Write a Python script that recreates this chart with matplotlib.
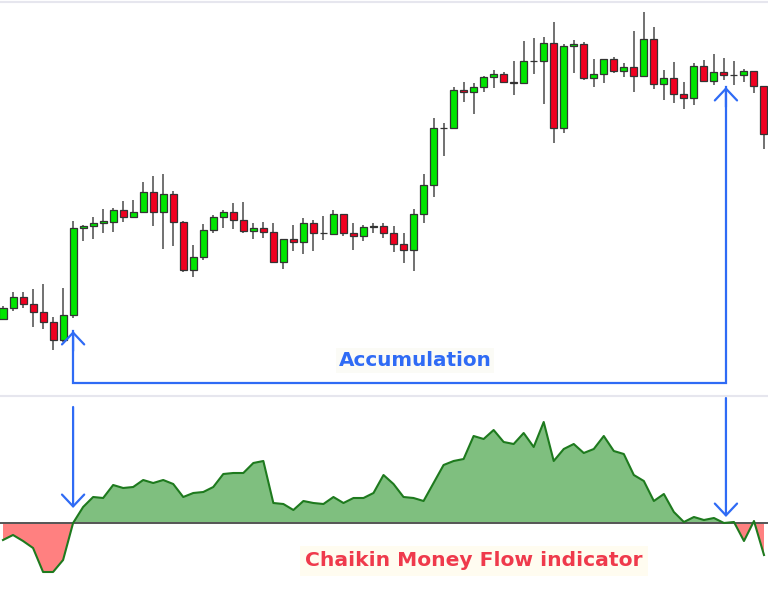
import matplotlib
matplotlib.use('Agg')
import matplotlib.pyplot as plt
from matplotlib.lines import Line2D
import numpy as np

# OHLC candles (arbitrary price units)
opens = [81, 92, 103, 96, 88, 78, 60, 85, 172, 174, 177, 178, 190, 183, 188, 208, 188, 206, 178, 130,
         143, 170, 183, 188, 180, 169, 172, 168, 138, 161, 158, 177, 167, 166, 186, 167, 164, 173, 174, 167,
         156, 150, 186, 215, 272, 272, 310, 308, 313, 323, 326, 318, 317, 339, 339, 357, 272, 354, 356, 322,
         326, 341, 329, 333, 324, 361, 316, 322, 306, 302, 334, 319, 328, 325, 325, 329, 314]
highs = [94, 108, 108, 111, 116, 83, 112, 179, 175, 183, 191, 192, 199, 200, 218, 224, 226, 209, 179, 155,
         176, 185, 190, 197, 198, 177, 178, 177, 161, 175, 182, 180, 184, 190, 186, 177, 175, 177, 177, 174,
         167, 191, 226, 282, 277, 313, 318, 317, 324, 330, 328, 339, 359, 362, 363, 378, 356, 360, 358, 341,
         341, 343, 337, 369, 388, 373, 330, 338, 318, 337, 340, 346, 342, 339, 331, 329, 314]
lows = [80, 89, 92, 73, 71, 50, 58, 82, 159, 161, 167, 168, 178, 182, 187, 174, 151, 154, 128, 123,
        140, 167, 172, 171, 167, 161, 162, 138, 131, 149, 146, 149, 160, 165, 164, 150, 159, 167, 162, 148,
        137, 129, 177, 203, 244, 272, 298, 286, 308, 312, 317, 305, 317, 326, 296, 257, 267, 327, 320, 313,
        317, 327, 323, 308, 324, 311, 300, 297, 291, 295, 318, 315, 320, 315, 318, 307, 251]
closes = [92, 103, 96, 88, 78, 60, 85, 172, 174, 177, 179, 190, 183, 188, 208, 188, 206, 178, 130, 143,
          170, 183, 188, 180, 169, 172, 168, 138, 161, 158, 177, 167, 167, 186, 167, 164, 173, 174, 167, 156,
          150, 186, 215, 272, 272, 310, 308, 313, 323, 326, 318, 317, 339, 339, 357, 272, 354, 356, 322, 326,
          341, 329, 333, 324, 361, 316, 322, 306, 302, 334, 319, 328, 325, 325, 329, 314, 266]

# Chaikin Money Flow values, one per candle
cmf = [-0.034, -0.024, -0.036, -0.050, -0.098, -0.098, -0.074, 0.000, 0.032, 0.052,
       0.050, 0.076, 0.070, 0.072, 0.086, 0.080, 0.086, 0.078, 0.052, 0.060,
       0.062, 0.072, 0.098, 0.100, 0.100, 0.120, 0.124, 0.040, 0.038, 0.026,
       0.044, 0.040, 0.038, 0.052, 0.040, 0.050, 0.050, 0.060, 0.096, 0.078,
       0.052, 0.050, 0.044, 0.080, 0.116, 0.124, 0.128, 0.174, 0.168, 0.186,
       0.162, 0.158, 0.180, 0.152, 0.202, 0.124, 0.148, 0.158, 0.140, 0.148,
       0.174, 0.144, 0.138, 0.096, 0.084, 0.044, 0.058, 0.022, 0.002, 0.012,
       0.006, 0.010, 0.000, 0.002, -0.036, 0.004, -0.064]

# accumulation window (candle indices)
ACC_START = 7
ACC_END = 72.2

GREEN = '#00e600'
RED = '#f00020'
BLUE = '#2f6bf5'
SEP = '#e6e6ee'

o = np.array(opens, float)
h = np.array(highs, float)
l = np.array(lows, float)
c = np.array(closes, float)
x = np.arange(len(o))
cmf = np.array(cmf)
xc = np.arange(len(cmf))

fig = plt.figure(figsize=(7.68, 6.08), dpi=100)
fig.patch.set_facecolor('white')

ax = fig.add_axes([0, 1 - 395 / 608, 1, 395 / 608])
ax2 = fig.add_axes([0, 0, 1, 212 / 608])

# candles
ax.vlines(x, l, h, color='#666666', linewidth=1.3, zorder=1)
up = c >= o
cols = np.where(up, GREEN, RED)
ax.bar(x, np.abs(c - o), bottom=np.minimum(o, c), width=0.7, color=cols,
       edgecolor='#333333', linewidth=0.9, zorder=2)
ax.set_xlim(-0.3, 76.4)
ax.set_ylim(5, 400)
ax.axis('off')

# accumulation bracket
y_tip_l, y_base, y_tip_r = 69, 17, 313
ax.plot([ACC_START, ACC_START, ACC_END, ACC_END], [y_tip_l, y_base, y_base, y_tip_r],
        color=BLUE, linewidth=1.6, solid_joinstyle='miter', clip_on=False, zorder=5)
head = dict(arrowstyle='->,head_length=0.85,head_width=0.8', color=BLUE, lw=1.6,
            mutation_scale=10, shrinkA=0, shrinkB=0)
ax.annotate('', xy=(ACC_START, y_tip_l), xytext=(ACC_START, y_tip_l - 20), arrowprops=head)
ax.annotate('', xy=(ACC_END, y_tip_r), xytext=(ACC_END, y_tip_r - 20), arrowprops=head)

fig.text(415 / 768, 1 - 360 / 608, 'Accumulation', color=BLUE, fontsize=14.4, fontweight='bold',
         ha='center', va='center',
         bbox=dict(boxstyle='square,pad=0.15', facecolor='#fbfbf6', edgecolor='none'))

# CMF panel
ax2.fill_between(xc, cmf, 0, where=cmf >= 0, interpolate=True, color='#7fbf7f', linewidth=0)
ax2.fill_between(xc, cmf, 0, where=cmf <= 0, interpolate=True, color='#ff8080', linewidth=0)
ax2.plot(xc, cmf, color='#1e7a1e', linewidth=1.5, zorder=3)
ax2.axhline(0, color='#555555', linewidth=1.4, zorder=2)
ax2.set_xlim(-0.3, 76.4)
ax2.set_ylim(-0.17, 0.254)
ax2.axis('off')

ax2.annotate('', xy=(ACC_START, 0.03), xytext=(ACC_START, 0.232), arrowprops=head)
ax2.annotate('', xy=(ACC_END, 0.012), xytext=(ACC_END, 0.25), arrowprops=head)

fig.text(474 / 768, 1 - 561 / 608, 'Chaikin Money Flow indicator', color='#ef3a4c', fontsize=14.6,
         fontweight='bold', ha='center', va='center',
         bbox=dict(boxstyle='square,pad=0.25', facecolor='#fffcf0', edgecolor='none'))

# separator lines
fig.add_artist(Line2D([0, 1], [1 - 2 / 608, 1 - 2 / 608], transform=fig.transFigure, color=SEP, linewidth=1.5))
fig.add_artist(Line2D([0, 1], [1 - 396 / 608, 1 - 396 / 608], transform=fig.transFigure, color=SEP, linewidth=1.5))

fig.savefig('out.png', dpi=100, facecolor='white')
